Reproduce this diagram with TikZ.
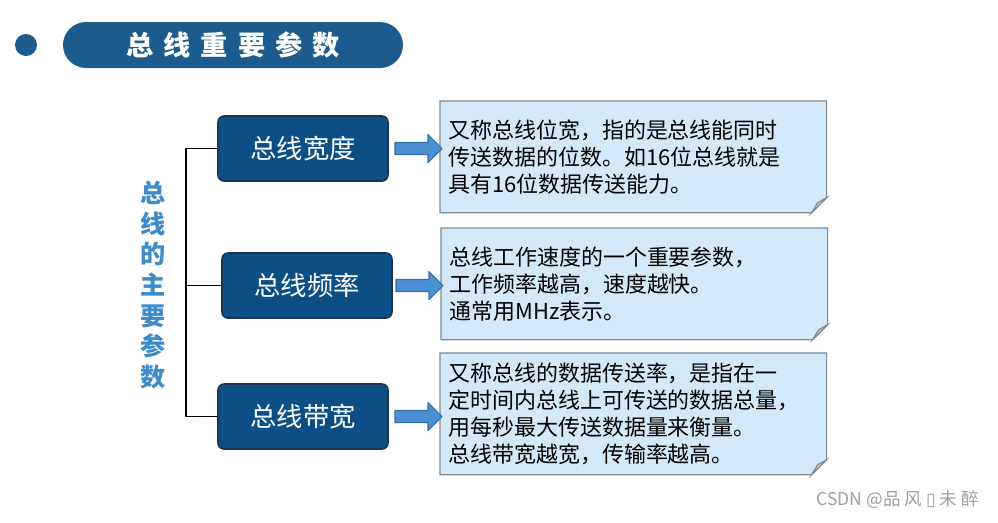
\documentclass[tikz,border=0pt]{standalone}
\usepackage{fontspec}
\setmainfont{Noto Sans CJK SC}
\newfontfamily\symfont{DejaVu Sans}
\usetikzlibrary{calc,backgrounds}

\definecolor{titleblue}{HTML}{1B5B8D}
\definecolor{boxblue}{HTML}{0C4E86}
\definecolor{boxedge}{HTML}{1C3350}
\definecolor{sideblue}{HTML}{3D8BCB}
\definecolor{arrowfill}{HTML}{4C8FD2}
\definecolor{arrowedge}{HTML}{2F6FAE}
\definecolor{notefill}{HTML}{D4E9F8}
\definecolor{noteedge}{HTML}{7D8995}

\begin{document}
\begin{tikzpicture}[
  x=0.02cm, y=-0.02cm,
  line join=round,
  font=\fontsize{12.4}{15}\selectfont,
  bullet/.style={circle, fill=titleblue, minimum size=0.44cm, inner sep=0pt},
  titlebar/.style={fill=titleblue, rounded corners=0.46cm, minimum width=6.8cm, minimum height=0.92cm, inner sep=0pt, text=white, font=\fontsize{15.5}{18}\selectfont\bfseries},
  sidetext/.style={align=center, text=sideblue, inner sep=0pt, font=\fontsize{14.3}{17.4}\selectfont\bfseries},
  param/.style={draw=boxedge, fill=boxblue, line width=0.9pt, rounded corners=0.12cm, minimum width=3.4cm, minimum height=1.3cm, text=white, font=\fontsize{15}{18}\selectfont},
  note/.style={anchor=north west, text width=7.4cm, minimum height=2.22cm, inner xsep=0.16cm, align=left, font=\fontsize{12.5}{15.3}\selectfont},
  noteframe/.style={draw=noteedge, fill=notefill, line width=0.7pt},
  fold/.style={draw=noteedge, fill=gray!45, line width=0.6pt},
  blockarrow/.style={draw=arrowedge, fill=arrowfill, line width=0.6pt},
  bracket/.style={draw=black, line width=1pt},
  credittext/.style={text=gray!75, font=\fontsize{10}{12}\selectfont}
]
\useasboundingbox (0,0) rectangle (998,522);

% Heading.
\node[bullet] (dot) at (26,45) {};
\node[titlebar] (title) at (233,45)
  {总\hspace{5.7pt}线\hspace{5.7pt}重\hspace{5.7pt}要\hspace{5.7pt}参\hspace{5.7pt}数\hspace{0.5cm}};

% Side label and parameter boxes.
\node[sidetext] (sideLabel) at (153,285) {总\\线\\的\\主\\要\\参\\数};

\node[param] (wide) at (303,148.5) {总线宽度};
\node[param] (freq) at (307,285.5) {总线频率};
\node[param] (band) at (303,416.5) {总线带宽};

\coordinate (spine) at (186,285);
\draw[bracket] (wide.west) -- (wide.west -| spine) -- (band.west -| spine) -- (band.west);
\draw[bracket] (freq.west) -- (freq.west -| spine);

% Explanations.
\node[note] (wideNote) at (440,101)
  {又称总线位宽，指的是总线能同时\\传送数据的位数。如16位总线就是\\具有16位数据传送能力。};
\node[note] (freqNote) at (441,228)
  {总线工作速度的一个重要参数，\\工作频率越高，速度越快。\\通常用MHz表示。};
\node[note, minimum height=2.42cm] (bandNote) at (440,353)
  {又称总线的数据传送率，是指在一\\定时间内总线上可传送的数据总量，\\用每秒最大传送数据量来衡量。\\总线带宽越宽，传输率越高。};

\begin{scope}[on background layer]
  \fill[white] (0,0) rectangle (998,522);
  \foreach \n in {wideNote,freqNote,bandNote}{
    \draw[noteframe] (\n.north west) -- (\n.north east) -- ($(\n.south east)+(0,-15)$)
      -- ($(\n.south east)+(-15,0)$) -- (\n.south west) -- cycle;
    \draw[fold] ($(\n.south east)+(-15,0)$) -- ($(\n.south east)+(-9,-10)$)
      -- ($(\n.south east)+(0,-15)$) -- cycle;
  }
\end{scope}

% Block arrows.
\foreach \b/\n in {wide/wideNote,freq/freqNote,band/bandNote}{
  \draw[blockarrow] ($(\b.east -| \n.west)+(-45,-6)$) -- ($(\b.east -| \n.west)+(-12,-6)$)
    -- ($(\b.east -| \n.west)+(-12,-14)$) -- ($(\b.east -| \n.west)+(2,0)$)
    -- ($(\b.east -| \n.west)+(-12,14)$) -- ($(\b.east -| \n.west)+(-12,6)$)
    -- ($(\b.east -| \n.west)+(-45,6)$) -- cycle;
}

\node[credittext, anchor=east] (credit) at (985,500) {CSDN @品 风 {\symfont ▯} 未 醉};

\end{tikzpicture}
\end{document}
